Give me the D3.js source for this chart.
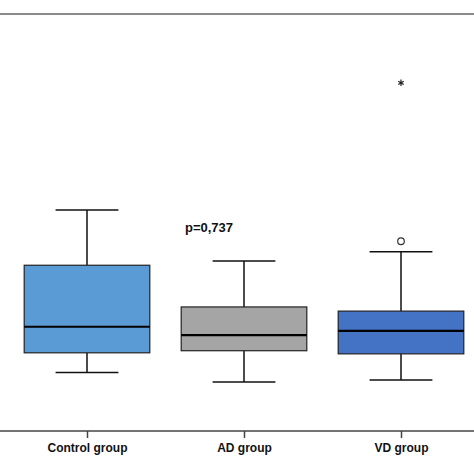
<!DOCTYPE html>
<html>
<head>
<meta charset="utf-8">
<script src="https://cdn.jsdelivr.net/npm/d3@7"></script>
<style>
  body { margin: 0; background: #fff; }
  svg { display: block; }
</style>
</head>
<body>
<div id="chart"></div>
<script>
// Box plot: three groups, SPSS style

// data (arbitrary units, no y axis shown)
var groups = ["Control group", "AD group", "VD group"];
var whiskerLow  = [5.6, 4.7, 4.9];
var q1          = [7.5, 7.7, 7.4];
var median      = [10.0, 9.2, 9.6];
var q3          = [15.9, 11.9, 11.5];
var whiskerHigh = [21.2, 16.3, 17.2];
var outliers = [{group: "VD group", value: 18.2}];
var extremes = [{group: "VD group", value: 33.4}];
var pLabel = "p=0,737";
var boxColors = ["#5b9bd5", "#a5a5a5", "#4472c4"];

var width = 474,
    height = 474;

var svg = d3.select("#chart")
    .append("svg")
    .attr("width", width)
    .attr("height", height);

var x = d3.scalePoint()
    .domain(groups)
    .range([8.5, 479.5])
    .padding(0.5);

var y = d3.scaleLinear()
    .domain([0, 40])
    .range([431, 14]);

var boxWidth = x.step() * 0.8,
    capWidth = boxWidth / 2;

// top frame line
svg.append("line")
    .attr("x1", 0).attr("x2", width)
    .attr("y1", y(40)).attr("y2", y(40))
    .attr("stroke", "#8a8a8a")
    .attr("stroke-width", 2);

// bottom axis
var xAxis = svg.append("g")
    .attr("transform", "translate(0," + y(0) + ")")
    .call(d3.axisBottom(x).tickSize(7).tickSizeOuter(0));
xAxis.select(".domain").remove();
xAxis.insert("line", ":first-child")
    .attr("x1", 0).attr("x2", width)
    .attr("stroke", "#444")
    .attr("stroke-width", 1.5);
xAxis.selectAll(".tick line")
    .attr("stroke", "#444")
    .attr("stroke-width", 1.5);
xAxis.selectAll(".tick text")
    .attr("y", 12)
    .attr("fill", "#111")
    .style("font", "bold 12px 'Liberation Sans', Arial, sans-serif");

// boxes
groups.forEach(function(g, i) {
    var cx = x(g);
    var box = svg.append("g");

    // whiskers
    box.append("line")
        .attr("x1", cx).attr("x2", cx)
        .attr("y1", y(whiskerHigh[i])).attr("y2", y(q3[i]))
        .attr("stroke", "#111").attr("stroke-width", 1.5);
    box.append("line")
        .attr("x1", cx).attr("x2", cx)
        .attr("y1", y(q1[i])).attr("y2", y(whiskerLow[i]))
        .attr("stroke", "#111").attr("stroke-width", 1.5);
    [whiskerHigh[i], whiskerLow[i]].forEach(function(v) {
        box.append("line")
            .attr("x1", cx - capWidth / 2).attr("x2", cx + capWidth / 2)
            .attr("y1", y(v)).attr("y2", y(v))
            .attr("stroke", "#111").attr("stroke-width", 1.5);
    });

    box.append("rect")
        .attr("x", cx - boxWidth / 2)
        .attr("y", y(q3[i]))
        .attr("width", boxWidth)
        .attr("height", y(q1[i]) - y(q3[i]))
        .attr("fill", boxColors[i])
        .attr("stroke", "#222")
        .attr("stroke-width", 1.2);

    box.append("line")
        .attr("x1", cx - boxWidth / 2).attr("x2", cx + boxWidth / 2)
        .attr("y1", y(median[i])).attr("y2", y(median[i]))
        .attr("stroke", "#000").attr("stroke-width", 2.2);
});

// outliers (circle) and extremes (asterisk)
svg.selectAll(".outlier")
    .data(outliers)
    .enter().append("circle")
    .attr("class", "outlier")
    .attr("cx", function(d) { return x(d.group); })
    .attr("cy", function(d) { return y(d.value); })
    .attr("r", 3.3)
    .attr("fill", "#fff")
    .attr("stroke", "#333")
    .attr("stroke-width", 1.2);

svg.selectAll(".extreme")
    .data(extremes)
    .enter().append("path")
    .attr("class", "extreme")
    .attr("transform", function(d) { return "translate(" + x(d.group) + "," + y(d.value) + ")"; })
    .attr("d", d3.symbol().type(d3.symbolAsterisk).size(28))
    .attr("fill", "none")
    .attr("stroke", "#222")
    .attr("stroke-width", 1.2);

// p value label
svg.append("text")
    .attr("x", x("AD group") - 59)
    .attr("y", y(19.1))
    .text(pLabel)
    .style("fill", "#111")
    .style("font", "bold 13px 'Liberation Sans', Arial, sans-serif");
</script>
</body>
</html>
